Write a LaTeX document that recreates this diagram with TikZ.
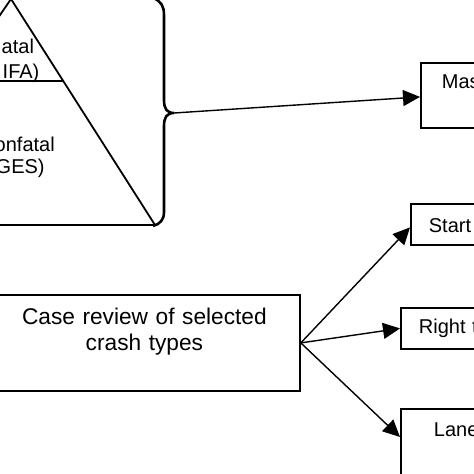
\documentclass[tikz,border=0pt]{standalone}
\usepackage{fontspec}
\setmainfont{Liberation Sans}
\usetikzlibrary{arrows.meta}

\begin{document}
\begin{tikzpicture}[x=1pt,y=-1pt,->,>={Triangle[length=17pt,width=16pt]},line width=1.4pt,
    box/.style={draw,line width=1.8pt,anchor=north west,inner ysep=0pt,align=left,text width=120pt,font=\fontsize{20}{24}\selectfont},
    lbl/.style={anchor=base west,inner sep=0pt,font=\fontsize{20}{24}\selectfont}]
    \useasboundingbox (0,0) rectangle (474,474);
    \clip (0,0) rectangle (474,474);

    % pyramid
    \draw[-,line width=1.8pt] (11,-1) -- (155,225) -- (-144,225) -- cycle;
    \draw[-,line width=1.8pt] (-100,81) -- (63,81);
    \node[lbl] (f1) at (1,53) {atal};
    \node[lbl] (f2) at (2,78) {IFA)};
    \node[lbl] (n1) at (-6,151) {onfatal};
    \node[lbl] (n2) at (-5,173) {GES)};

    % brace
    \draw[-,line width=2.6pt] (153,-2) .. controls (161,1) and (164,6) .. (164,15) -- (164,100)
        .. controls (164,109) and (167,113) .. (174,113) coordinate (tip)
        .. controls (167,113) and (164,117) .. (164,126) -- (164,212)
        .. controls (164,220) and (160,224) .. (153,226);

    \node[box,inner xsep=21pt,text height=26pt,text depth=39pt] (m) at (420,62) {Mas};
    \node[box,inner xsep=18pt,text height=29pt,text depth=12pt] (s) at (410,203) {Start};
    \node[box,inner xsep=18pt,text height=26pt,text depth=15pt] (r) at (400,307) {Right t};
    \node[box,inner xsep=33pt,text height=28pt,text depth=90pt] (l) at (400,408) {Lane};
    \node[box,align=center,text width=311pt,inner xsep=0pt,text height=30pt,text depth=66pt,
        font=\fontsize{22.7}{26}\selectfont] (c) at (-12,294) {Case review of selected\\crash types};

    \path
        (tip) edge ([yshift=-1.5pt]m.west)
        (c.east) edge ([yshift=-3pt]s.west)
        (c.east) edge (r.west)
        (c.east) edge ([yshift=-29pt]l.north west)
        ;
\end{tikzpicture}
\end{document}
